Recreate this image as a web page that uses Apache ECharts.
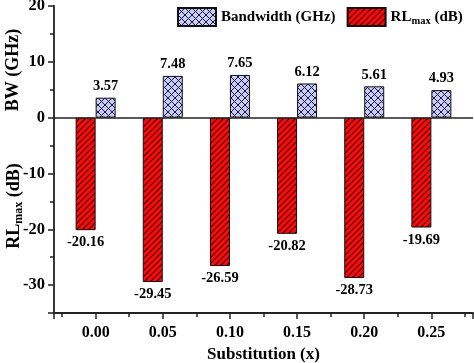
<!DOCTYPE html>
<html><head><meta charset="utf-8">
<script src="https://cdn.jsdelivr.net/npm/echarts@6/dist/echarts.min.js"></script>
<style>html,body{margin:0;padding:0;background:#fff}#c{width:474px;height:363px}</style>
</head><body><div id="c"></div>
<script>
const substitution = [0.00, 0.05, 0.10, 0.15, 0.20, 0.25];
const bandwidth = [3.57, 7.48, 7.65, 6.12, 5.61, 4.93];
const rlMax = [-20.16, -29.45, -26.59, -20.82, -28.73, -19.69];
const yTickLabels = ['-30', '-20', '-10', '0', '10', '20'];

const FONT = '"Liberation Serif", "Times New Roman", serif';

function hatch(size, bg, fg, cross, lw) {
  const c = document.createElement('canvas');
  c.width = size; c.height = size;
  const ctx = c.getContext('2d');
  ctx.fillStyle = bg; ctx.fillRect(0, 0, size, size);
  ctx.strokeStyle = fg; ctx.lineWidth = lw;
  ctx.beginPath();
  ctx.moveTo(0, size); ctx.lineTo(size, 0);
  ctx.moveTo(-1, 1); ctx.lineTo(1, -1);
  ctx.moveTo(size - 1, size + 1); ctx.lineTo(size + 1, size - 1);
  if (cross) {
    ctx.moveTo(0, 0); ctx.lineTo(size, size);
    ctx.moveTo(-1, size - 1); ctx.lineTo(1, size + 1);
    ctx.moveTo(size - 1, -1); ctx.lineTo(size + 1, 1);
  }
  ctx.stroke();
  return c;
}
const redPattern = { image: hatch(6, '#ff0a0a', '#3a0000', false, 1.1), repeat: 'repeat' };
const bluePattern = { image: hatch(7, '#cacaf4', '#1a1a40', true, 1), repeat: 'repeat' };

const chart = echarts.init(document.getElementById('c'), null, { renderer: 'canvas' });
const bold = { fontFamily: FONT, fontWeight: 'bold', color: '#000' };

chart.setOption({
  animation: false,
  backgroundColor: '#fff',
  grid: { left: 54, right: 1, top: 6, bottom: 50, containLabel: false, outerBoundsMode: 'none' },
  legend: {
    left: 177, top: 7, padding: 0, width: 320,
    orient: 'horizontal',
    icon: 'rect',
    itemWidth: 38, itemHeight: 18, itemGap: 11,
    data: ['Bandwidth (GHz)', 'RLmax (dB)'],
    textStyle: Object.assign({ fontSize: 15 }, bold, {
      rich: {
        a: { fontFamily: FONT, fontWeight: 'bold', fontSize: 15, color: '#000' },
        b: { fontFamily: FONT, fontWeight: 'bold', fontSize: 10.5, color: '#000', padding: [9, 0, 0, 0] }
      }
    }),
    formatter: function (name) {
      return name === 'RLmax (dB)' ? '{a|RL}{b|max}{a| (dB)}' : '{a|' + name + '}';
    }
  },
  xAxis: {
    type: 'value',
    min: -0.031, max: 0.281,
    name: 'Substitution (x)',
    nameLocation: 'middle',
    nameGap: 32,
    nameTextStyle: Object.assign({ fontSize: 17 }, bold),
    splitLine: { show: false },
    axisLine: { onZero: false, lineStyle: { color: '#222', width: 1.8 } },
    axisTick: { inside: false, length: 6, lineStyle: { color: '#222', width: 1.5 } },
    minorTick: { show: true, splitNumber: 2, length: 4, lineStyle: { color: '#222', width: 1.5 } },
    axisLabel: Object.assign({ fontSize: 16, margin: 12, showMinLabel: false, showMaxLabel: false,
      formatter: v => v.toFixed(2) }, bold)
  },
  yAxis: {
    type: 'value',
    min: -35, max: 20,
    splitLine: { show: false },
    axisLine: { show: true, onZero: false, lineStyle: { color: '#222', width: 1.8 } },
    axisTick: { show: true, length: 6, lineStyle: { color: '#222', width: 1.5 } },
    minorTick: { show: true, splitNumber: 2, length: 4, lineStyle: { color: '#222', width: 1.5 } },
    axisLabel: Object.assign({ fontSize: 16.5, margin: 9, showMinLabel: false }, bold)
  },
  series: [
    {
      name: 'RLmax (dB)', type: 'bar',
      barWidth: 20, barGap: '0%',
      data: substitution.map((x, i) => [x, rlMax[i]]),
      itemStyle: { color: redPattern, borderColor: '#111', borderWidth: 1 },
      label: Object.assign({ show: true, position: 'bottom', distance: 5, fontSize: 14.5,
        formatter: p => p.value[1].toFixed(2) }, bold),
      markLine: {
        silent: true, symbol: 'none', label: { show: false },
        lineStyle: { color: '#222', width: 1.5, type: 'solid' },
        data: [{ yAxis: 0 }]
      }
    },
    {
      name: 'Bandwidth (GHz)', type: 'bar',
      barWidth: 20, barGap: '0%',
      data: substitution.map((x, i) => [x, bandwidth[i]]),
      itemStyle: { color: bluePattern, borderColor: '#111', borderWidth: 1 },
      label: Object.assign({ show: true, position: 'top', distance: 4, fontSize: 14.5,
        formatter: p => p.value[1].toFixed(2) }, bold)
    }
  ],
  graphic: [
    {
      type: 'text', x: 13, y: 70, rotation: Math.PI / 2,
      style: { text: 'BW (GHz)', fontFamily: FONT, fontWeight: 'bold', fontSize: 18,
        fill: '#000', align: 'center', verticalAlign: 'middle' }
    },
    {
      type: 'text', x: 14, y: 206, rotation: Math.PI / 2,
      style: {
        text: '{a|RL}{b|max}{a| (dB)}', align: 'center', verticalAlign: 'middle',
        rich: {
          a: { fontFamily: FONT, fontWeight: 'bold', fontSize: 18, fill: '#000' },
          b: { fontFamily: FONT, fontWeight: 'bold', fontSize: 12, fill: '#000', padding: [9, 0, 0, 0] }
        }
      }
    }
  ]
});
</script>
</body></html>
